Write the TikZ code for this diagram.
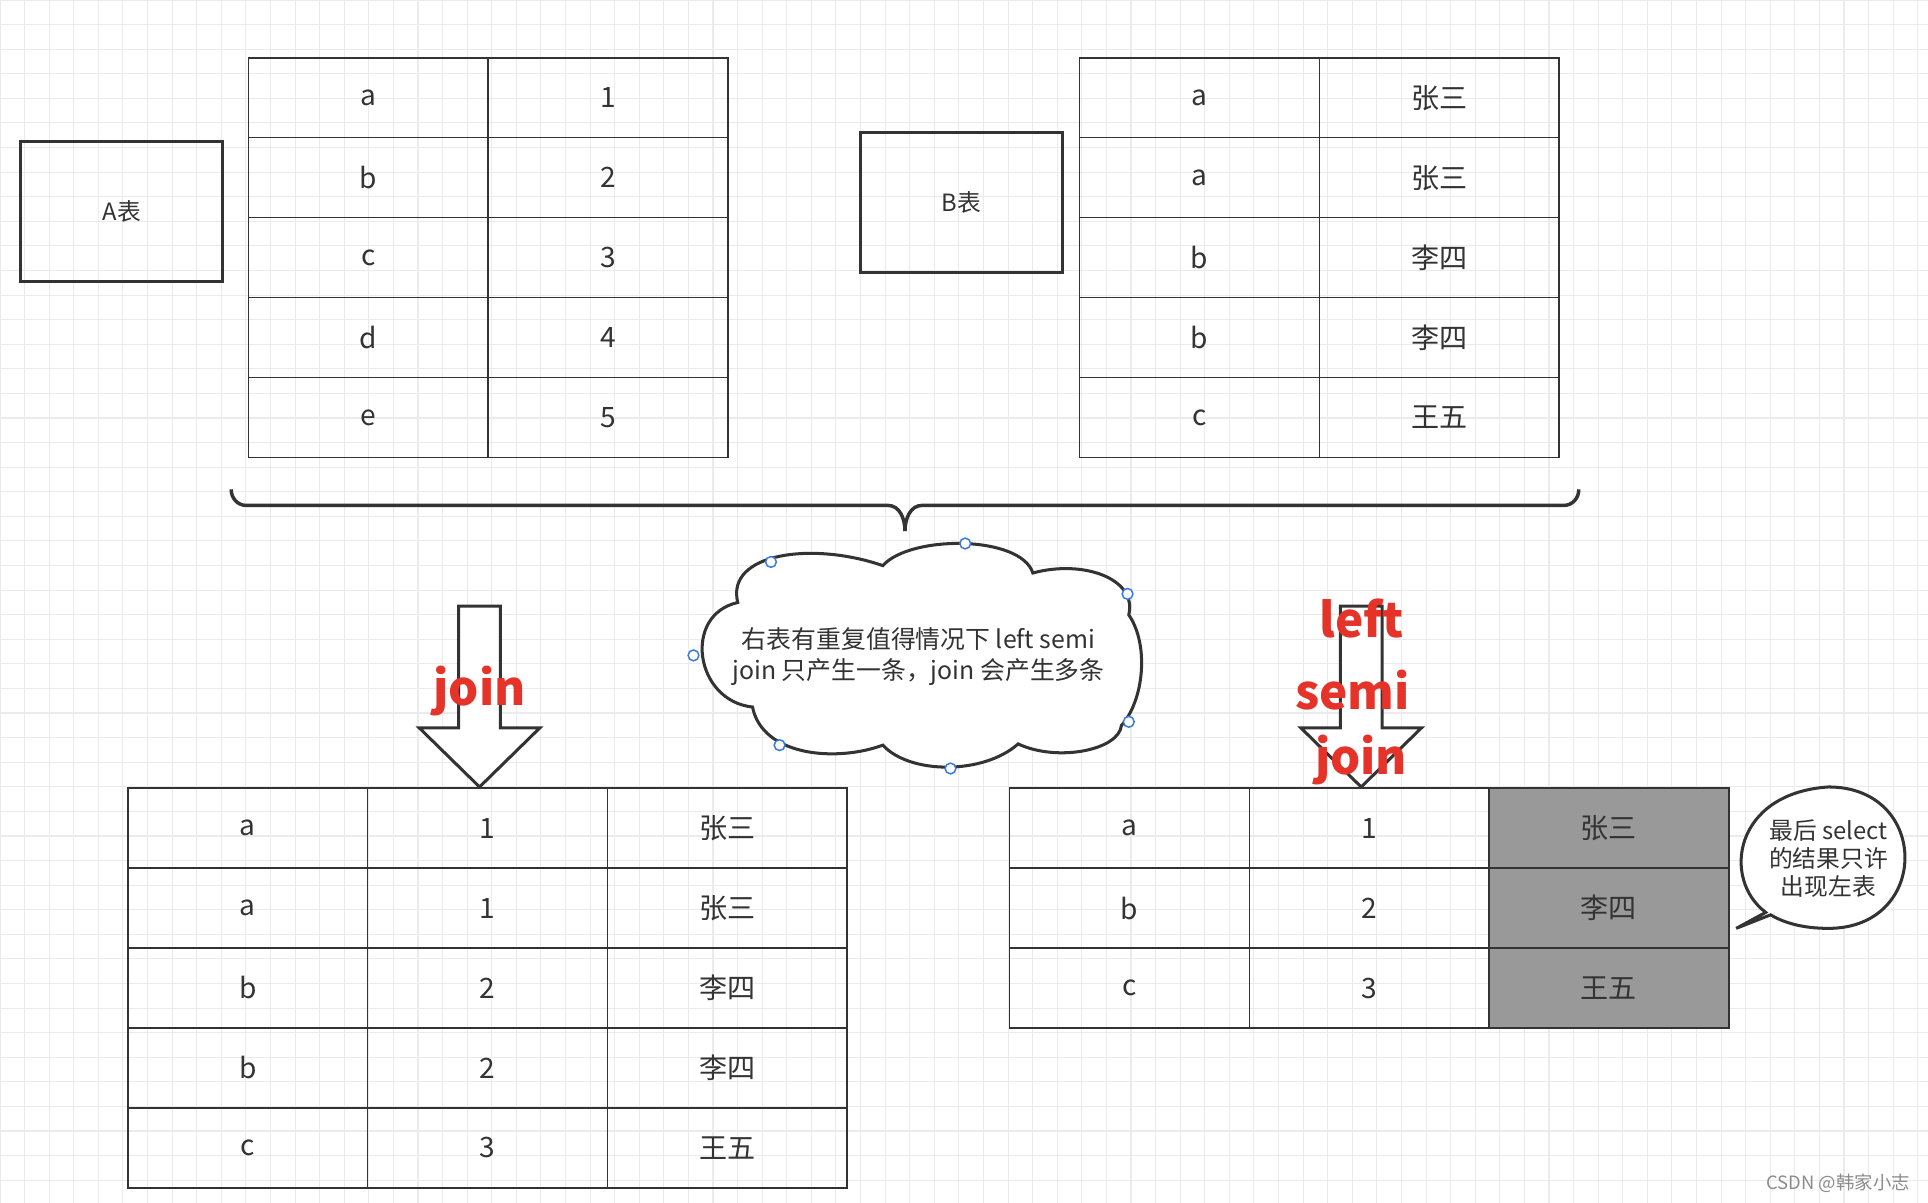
\documentclass[tikz,border=0pt]{standalone}
\usepackage{fontspec}
\setmainfont{Noto Sans CJK SC}
\usetikzlibrary{shapes.symbols,shapes.callouts}
\definecolor{gridc}{HTML}{EBEBEB}
\definecolor{linec}{HTML}{333333}
\definecolor{redc}{HTML}{E5332A}
\definecolor{handle}{HTML}{3A7BE0}
\tikzset{
 cell/.style={draw=linec,line width=0.7pt,minimum width=3.9cm,minimum height=1.3cm,inner sep=0pt,font=\fontsize{13}{15}\selectfont,text=linec},
 greycell/.style={cell,fill=black!40},
 labbox/.style={draw=linec,line width=1.4pt,inner sep=0pt,font=\fontsize{11}{13}\selectfont,text=linec},
 redlab/.style={text=redc,font=\bfseries\fontsize{22}{24}\selectfont,inner sep=0pt},
 fatarrow/.style={draw=linec,line width=1.4pt,fill=white},
 hdl/.style={circle,draw=handle,fill=white,line width=0.7pt,minimum size=5pt,inner sep=0pt}
}
\begin{document}
\begin{tikzpicture}[x=0.02cm,y=-0.02cm]
\useasboundingbox (0,0) rectangle (1568,978);
\fill[white] (0,0) rectangle (1568,978);
\draw[gridc,line width=0.5pt] (0,0) grid[step=0.4cm] (1568,978);
% A
\node[labbox,minimum width=3.28cm,minimum height=2.28cm] (Abox) at (99,172) {A表};
\foreach \l [count=\i] in {a,b,c,d,e}{
 \node[cell] (A\i1) at (299.5,{47+65*\i-32.5}) {\l};}
\foreach \l [count=\i] in {1,2,3,4,5}{
 \node[cell] (A\i2) at (494.5,{47+65*\i-32.5}) {\l};}
% B
\node[labbox,minimum width=3.28cm,minimum height=2.28cm] (Bbox) at (782,165) {B表};
\foreach \l/\r [count=\i] in {a/张三,a/张三,b/李四,b/李四,c/王五}{
 \node[cell] (B\i1) at (975.5,{47+65*\i-32.5}) {\l};
 \node[cell] (B\i2) at (1170.5,{47+65*\i-32.5}) {\r};}
% brace
\coordinate (brL) at (188,398); \coordinate (brR) at (1284,398); \coordinate (brT) at (736,432);
\draw[linec,line width=1.6pt] (brL) to[out=-90,in=180] (200,411) -- (722,411) to[out=0,in=90] (brT)
 (brT) to[out=90,in=180] (750,411) -- (1272,411) to[out=0,in=-90] (brR);
% cloud
\draw[linec,line width=1.4pt,fill=white] (600,490)
 .. controls (590,450) and (660,440) .. (718,460)
 .. controls (740,435) and (830,435) .. (840,466)
 .. controls (880,455) and (925,470) .. (918,500)
 .. controls (935,525) and (930,570) .. (912,590)
 .. controls (910,610) and (860,620) .. (828,605)
 .. controls (800,630) and (740,630) .. (718,606)
 .. controls (680,620) and (620,615) .. (612,575)
 .. controls (565,570) and (555,500) .. (600,490) -- cycle;
\node[align=center,font=\fontsize{11.5}{14}\selectfont,text=linec] (cl) at (747,534) {右表有重复值得情况下 left semi\\join 只产生一条，join 会产生多条};
\foreach \p in {(627,457),(785,442),(917,483),(564,533),(918,587),(634,606),(773,625)} \node[hdl] at \p {};
% join arrow
\draw[fatarrow] (373,493) -- (407,493) -- (407,592) -- (439,592) -- (390,640) -- (341,592) -- (373,592) -- cycle;
\node[redlab] (jl) at (390,562) {join};
% bottom-left table
\foreach \a/\b/\c [count=\i] in {a/1/张三,a/1/张三,b/2/李四,b/2/李四,c/3/王五}{
 \node[cell] (J\i1) at (201.5,{641+65*\i-32.5}) {\a};
 \node[cell] (J\i2) at (396.5,{641+65*\i-32.5}) {\b};
 \node[cell] (J\i3) at (591.5,{641+65*\i-32.5}) {\c};}
% semi arrow
\draw[fatarrow] (1090,493) -- (1124,493) -- (1124,592) -- (1156,592) -- (1107,640) -- (1058,592) -- (1090,592) -- cycle;
\node[redlab] (s1) at (1107,503) {left};
\node[redlab] (s2) at (1100,561) {semi};
\node[redlab] (s3) at (1107,618) {join};
% right table
\foreach \a/\b/\c [count=\i] in {a/1/张三,b/2/李四,c/3/王五}{
 \node[cell] (S\i1) at (918.5,{641+65*\i-32.5}) {\a};
 \node[cell] (S\i2) at (1113.5,{641+65*\i-32.5}) {\b};
 \node[greycell] (S\i3) at (1308.5,{641+65*\i-32.5}) {\c};}
% speech bubble
\draw[linec,line width=1.4pt,fill=white] (1436,742) .. controls (1400,715) and (1410,645) .. (1487,640) .. controls (1570,640) and (1570,755) .. (1487,755) .. controls (1465,755) and (1450,750) .. (1440,744) -- (1412,755) -- cycle;
\node[align=center,font=\fontsize{11}{13}\selectfont,text=linec] (bt) at (1487,698) {最后 select\\的结果只许\\出现左表};
\node[text=black!45,font=\fontsize{8.5}{10}\selectfont] (wm) at (1495,962) {CSDN @韩家小志};
\end{tikzpicture}
\end{document}
